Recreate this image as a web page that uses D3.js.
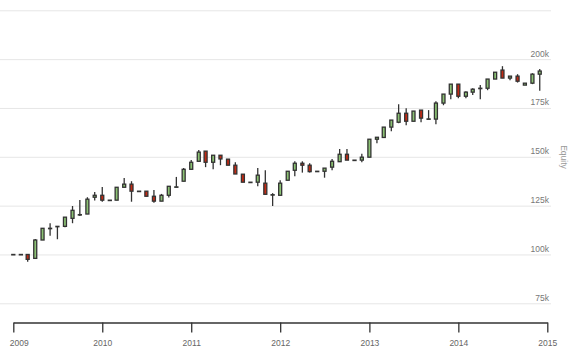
<!DOCTYPE html>
<html>
<head>
<meta charset="utf-8">
<script src="https://cdn.jsdelivr.net/npm/d3@7"></script>
<style>
  body { margin: 0; background: #fff; }
  text { font-family: "Liberation Sans", Arial, sans-serif; }
</style>
</head>
<body>
<div id="chart-area"></div>
<script>
// Data (monthly candles, values in thousands) ---------------------
const months = [
  "2009-01","2009-02","2009-03","2009-04","2009-05","2009-06","2009-07","2009-08","2009-09","2009-10","2009-11","2009-12",
  "2010-01","2010-02","2010-03","2010-04","2010-05","2010-06","2010-07","2010-08","2010-09","2010-10","2010-11","2010-12",
  "2011-01","2011-02","2011-03","2011-04","2011-05","2011-06","2011-07","2011-08","2011-09","2011-10","2011-11","2011-12",
  "2012-01","2012-02","2012-03","2012-04","2012-05","2012-06","2012-07","2012-08","2012-09","2012-10","2012-11","2012-12",
  "2013-01","2013-02","2013-03","2013-04","2013-05","2013-06","2013-07","2013-08","2013-09","2013-10","2013-11","2013-12",
  "2014-01","2014-02","2014-03","2014-04","2014-05","2014-06","2014-07","2014-08","2014-09","2014-10","2014-11","2014-12"
]
const openV = [
  100,100,100,98.0,107.4,113.4,114.4,114.4,118.5,120.4,120.7,129.3,
  130.3,127.8,127.8,134.4,136.0,132.4,132.4,129.8,127.3,130.3,134.6,137.5,
  143.6,147.7,152.9,147.2,150.8,148.8,145.7,141.1,137.0,137.0,136.5,130.6,
  130.3,138.0,143.1,146.7,145.7,142.6,142.6,144.7,147.5,151.3,148.3,148.3,
  149.8,159.0,159.9,165.2,167.7,172.3,168.2,173.9,169.4,169.3,177.5,182.1,
  187.2,181.0,183.1,185.1,185.1,189.8,194.4,190.3,191.3,186.7,187.7,192.3
]
const highV = [
  100,100,100,107.9,113.4,116.0,114.4,119.1,124.8,127.9,129.3,132.0,
  134.6,127.8,134.4,139.2,137.5,132.4,132.4,133.0,131.0,134.9,139.7,144.3,
  148.4,153.5,152.9,150.8,150.8,148.8,147.2,141.1,137.0,144.3,143.1,131.4,
  138.0,142.6,147.7,147.7,146.7,142.6,144.2,148.9,154.0,154.0,148.3,151.5,
  159.0,160.0,165.2,168.8,176.9,174.9,173.4,173.9,173.9,178.5,182.1,187.2,
  187.2,183.6,185.1,186.7,189.8,193.3,196.4,191.3,192.3,187.7,192.8,194.9
]
const lowV = [
  100,100,96.3,98.0,107.4,109.6,107.8,113.9,116.0,119.7,120.7,127.6,
  127.0,127.8,127.8,134.4,127.0,132.4,129.8,126.5,127.3,129.1,134.6,137.5,
  143.6,147.7,144.7,143.6,145.7,145.7,141.2,137.0,137.0,134.9,130.8,124.8,
  130.3,138.0,140.0,141.9,141.9,142.6,139.3,143.1,147.5,148.3,148.3,147.2,
  149.8,157.0,159.9,163.1,167.2,166.2,168.2,167.7,169.4,166.7,176.4,179.5,
  180.0,180.0,181.6,179.4,184.1,189.8,190.3,189.2,188.0,186.7,187.2,183.8
]
const closeV = [
  100,100,97.5,107.4,113.4,113.4,114.4,119.1,122.6,120.4,128.3,130.3,
  127.8,127.8,134.4,136.0,132.4,132.4,129.8,127.3,130.3,134.9,134.6,143.6,
  147.2,152.4,147.2,150.8,148.9,145.7,141.2,137.0,137.0,140.6,130.8,130.6,
  136.5,142.6,146.7,145.7,142.4,142.6,144.2,147.7,151.3,148.3,148.3,149.8,
  159.0,160.0,165.2,168.8,172.3,168.2,173.4,169.8,169.4,177.5,182.1,187.2,
  181.0,183.1,184.6,185.1,189.8,193.3,190.3,191.3,188.7,187.7,192.3,193.9
]
const yTicks = [75, 100, 125, 150, 175, 200, 225]
const yLabel = "Equity"

const parseMonth = d3.timeParse("%Y-%m")
const candles = months.map((m, i) => ({
  date: parseMonth(m), o: openV[i], h: highV[i], l: lowV[i], c: closeV[i]
}))

// Canvas setup -----------------------------------------
const WIDTH = 580
const HEIGHT = 360
const AXIS_Y = 322.5
const GRID_RIGHT = 551

const svg = d3.select("#chart-area").append("svg")
  .attr("width", WIDTH)
  .attr("height", HEIGHT)

// Scales ------------------------------------
const xScale = d3.scaleTime()
  .domain([new Date(2009, 0, 1), new Date(2015, 0, 1)])
  .range([13.3, 547.3])

const yScale = d3.scaleLinear()
  .domain([75, 225])
  .range([303.3, 10.3])

// Grid + y labels ------------------------------------
const yAxis = d3.axisLeft(yScale)
  .tickValues(yTicks)
  .tickSize(-GRID_RIGHT)
  .tickFormat(d => d === 225 ? "" : d + "k")

const gY = svg.append("g")
  .attr("class", "y-axis")
  .call(yAxis)
gY.select(".domain").remove()
gY.selectAll(".tick line")
  .attr("stroke", "#e6e6e6")
  .attr("stroke-width", 1)
gY.selectAll(".tick text")
  .attr("x", 549)
  .attr("dy", -3)
  .attr("text-anchor", "end")
  .attr("fill", "#777")
  .style("font-size", "8.5px")

svg.append("text")
  .attr("transform", `translate(561,157) rotate(90)`)
  .attr("text-anchor", "middle")
  .attr("fill", "#999")
  .style("font-size", "8.5px")
  .text(yLabel)

// X axis ------------------------------------
const xAxis = d3.axisBottom(xScale)
  .ticks(d3.timeYear.every(1))
  .tickFormat(d3.timeFormat("%Y"))
  .tickSize(10)
  .tickSizeOuter(0)

const gX = svg.append("g")
  .attr("class", "x-axis")
  .attr("transform", `translate(0,${AXIS_Y})`)
  .call(xAxis)
gX.select(".domain").attr("stroke", "#333").attr("stroke-width", 1.3)
gX.selectAll(".tick line").attr("stroke", "#333").attr("stroke-width", 1.3)
gX.selectAll(".tick text")
  .attr("y", 17)
  .attr("fill", "#666")
  .style("font-size", "8.5px")
gX.select(".tick text").attr("dx", 5.4)

// Candles ------------------------------------
const BODY_W = 3
const gC = svg.append("g").attr("class", "candles")

const candle = gC.selectAll("g.candle")
  .data(candles)
  .enter().append("g")
  .attr("class", "candle")

candle.append("line")
  .attr("x1", d => xScale(d.date))
  .attr("x2", d => xScale(d.date))
  .attr("y1", d => yScale(d.h))
  .attr("y2", d => yScale(d.l))
  .attr("stroke", "#333")
  .attr("stroke-width", 1.3)

candle.append("rect")
  .attr("x", d => xScale(d.date) - BODY_W / 2)
  .attr("y", d => yScale(Math.max(d.o, d.c)))
  .attr("width", BODY_W)
  .attr("height", d => Math.max(0.4, yScale(Math.min(d.o, d.c)) - yScale(Math.max(d.o, d.c))))
  .attr("fill", d => d.c >= d.o ? "#8cc274" : "#c22a14")
  .attr("stroke", "#333")
  .attr("stroke-width", 1.3)
</script>
</body>
</html>
